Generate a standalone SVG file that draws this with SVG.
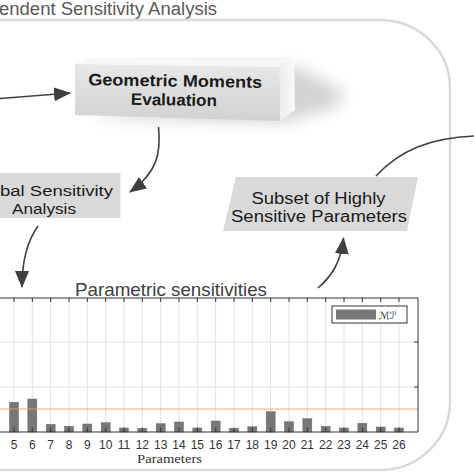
<svg xmlns="http://www.w3.org/2000/svg" width="474" height="474" viewBox="0 0 474 474">
<style>
.lbl{font-family:"Liberation Sans",Arial,sans-serif;fill:#1a1a1a}
.tick{font-family:"Liberation Sans",Arial,sans-serif;font-size:12px;fill:#333;text-anchor:middle}
.grid{stroke:#e2e2e2;stroke-width:1;fill:none}
.bar{fill:#777;stroke:#6a6a6a;stroke-width:0.5}
.conn{fill:none;stroke:#404040;stroke-width:1.6}
.tk{stroke:#333;stroke-width:1;fill:none}
</style>
<defs>
<marker id="ah" markerUnits="userSpaceOnUse" markerWidth="18" markerHeight="15" refX="16" refY="7" orient="auto">
<path d="M0,0 L17,7 L0,14 z" fill="#404040"/>
</marker>
<linearGradient id="front" x1="0" y1="0" x2="0" y2="1">
<stop offset="0" stop-color="#e8e8e8"/>
<stop offset="1" stop-color="#d2d2d2"/>
</linearGradient>
<linearGradient id="side" x1="0" y1="0" x2="1" y2="0">
<stop offset="0" stop-color="#ececec"/>
<stop offset="1" stop-color="#fafafa"/>
</linearGradient>
<filter id="blur" x="-50%" y="-50%" width="200%" height="200%">
<feGaussianBlur stdDeviation="8"/>
</filter>
</defs>
<rect width="474" height="474" fill="#fff"/>

<g id="title">
<text x="-1" y="15" font-family="Liberation Sans,Arial,sans-serif" font-size="18" fill="#595959" textLength="218" lengthAdjust="spacingAndGlyphs">endent Sensitivity Analysis</text>
</g>

<g id="container">
<path d="M0,20 H380 A70,68 0 0 1 450,88 V402 A70,68 0 0 1 380,470 H0" fill="none" stroke="#d9d9d9" stroke-width="2.5"/>
</g>

<g id="node-geometric">
<polygon points="88,116 282,123 335,108 345,92 296,66" fill="#000" opacity="0.17" filter="url(#blur)"/>
<polygon points="75,64 90,58 294,57 279,67" fill="#f6f6f6"/>
<polygon points="279,67 294,57 295,110 280,121" fill="url(#side)"/>
<polygon points="75,64 279,67 280,121 75,115" fill="url(#front)"/>
<g transform="rotate(0.9 175 95)">
<text class="lbl" x="175" y="86.5" font-size="16.5" font-weight="bold" text-anchor="middle" textLength="174" lengthAdjust="spacingAndGlyphs">Geometric Moments</text>
<text class="lbl" x="174" y="105.5" font-size="16.5" font-weight="bold" text-anchor="middle" textLength="86" lengthAdjust="spacingAndGlyphs">Evaluation</text>
</g>
</g>

<g id="node-gsa">
<rect x="-2" y="173" width="122.5" height="45" fill="#d9d9d9"/>
<text class="lbl" x="0" y="196" font-size="15.5" textLength="113" lengthAdjust="spacingAndGlyphs">bal Sensitivity</text>
<text class="lbl" x="44" y="213.5" font-size="15.5" text-anchor="middle" textLength="64" lengthAdjust="spacingAndGlyphs">Analysis</text>
</g>

<g id="node-subset">
<polygon points="236,177 418,177 407,231 223,231" fill="#d9d9d9"/>
<text class="lbl" x="318.5" y="204" font-size="16" text-anchor="middle" textLength="134" lengthAdjust="spacingAndGlyphs">Subset of Highly</text>
<text class="lbl" x="319" y="222" font-size="16" text-anchor="middle" textLength="176" lengthAdjust="spacingAndGlyphs">Sensitive Parameters</text>
</g>

<g id="node-chart">
<g class="grid">
<path d="M14,298V432M32.33,298V432M50.67,298V432M69,298V432M87.33,298V432M105.67,298V432M124,298V432M142.33,298V432M160.67,298V432M179,298V432M197.33,298V432M215.67,298V432M234,298V432M252.33,298V432M270.67,298V432M289,298V432M307.33,298V432M325.67,298V432M344,298V432M362.33,298V432M380.67,298V432M399,298V432"/>
<path d="M0,342H418M0,387H418"/>
</g>
<g>
<rect class="bar" x="9.5" y="402.3" width="9" height="29.7"/>
<rect class="bar" x="27.83" y="399" width="9" height="33"/>
<rect class="bar" x="46.17" y="424.3" width="9" height="7.7"/>
<rect class="bar" x="64.5" y="426.3" width="9" height="5.7"/>
<rect class="bar" x="82.83" y="424" width="9" height="8"/>
<rect class="bar" x="101.17" y="422.7" width="9" height="9.3"/>
<rect class="bar" x="119.5" y="428" width="9" height="4"/>
<rect class="bar" x="137.83" y="428.3" width="9" height="3.7"/>
<rect class="bar" x="156.17" y="423.7" width="9" height="8.3"/>
<rect class="bar" x="174.5" y="422" width="9" height="10"/>
<rect class="bar" x="192.83" y="428" width="9" height="4"/>
<rect class="bar" x="211.17" y="421" width="9" height="11"/>
<rect class="bar" x="229.5" y="428.3" width="9" height="3.7"/>
<rect class="bar" x="247.83" y="426.7" width="9" height="5.3"/>
<rect class="bar" x="266.17" y="411.7" width="9" height="20.3"/>
<rect class="bar" x="284.5" y="421.7" width="9" height="10.3"/>
<rect class="bar" x="302.83" y="418.7" width="9" height="13.3"/>
<rect class="bar" x="321.17" y="426.3" width="9" height="5.7"/>
<rect class="bar" x="339.5" y="428" width="9" height="4"/>
<rect class="bar" x="357.83" y="423.3" width="9" height="8.7"/>
<rect class="bar" x="376.17" y="427" width="9" height="5"/>
<rect class="bar" x="394.5" y="428" width="9" height="4"/>
</g>
<path d="M0,409H418" stroke="#ec9a6e" stroke-width="1" opacity="0.85"/>
<g class="tk">
<path d="M14,298v4M32.33,298v4M50.67,298v4M69,298v4M87.33,298v4M105.67,298v4M124,298v4M142.33,298v4M160.67,298v4M179,298v4M197.33,298v4M215.67,298v4M234,298v4M252.33,298v4M270.67,298v4M289,298v4M307.33,298v4M325.67,298v4M344,298v4M362.33,298v4M380.67,298v4M399,298v4"/>
<path d="M14,432v-4.5M32.33,432v-4.5M50.67,432v-4.5M69,432v-4.5M87.33,432v-4.5M105.67,432v-4.5M124,432v-4.5M142.33,432v-4.5M160.67,432v-4.5M179,432v-4.5M197.33,432v-4.5M215.67,432v-4.5M234,432v-4.5M252.33,432v-4.5M270.67,432v-4.5M289,432v-4.5M307.33,432v-4.5M325.67,432v-4.5M344,432v-4.5M362.33,432v-4.5M380.67,432v-4.5M399,432v-4.5"/>
<path d="M418,342h-4M418,387h-4"/>
<path d="M0,298H418V432H0"/>
</g>
<g>
<rect x="332" y="306" width="75" height="17" fill="#fff" stroke="#333" stroke-width="1"/>
<rect x="336" y="309.5" width="40" height="10" fill="#777"/>
<text x="379" y="319" font-family="DejaVu Serif,DejaVu Sans,serif" font-style="italic" font-size="10" fill="#222">ℳℐ<tspan font-size="6.5" dy="-4.5">i</tspan></text>
</g>
<g>
<text class="tick" x="14" y="448.5">5</text>
<text class="tick" x="32.33" y="448.5">6</text>
<text class="tick" x="50.67" y="448.5">7</text>
<text class="tick" x="69" y="448.5">8</text>
<text class="tick" x="87.33" y="448.5">9</text>
<text class="tick" x="105.67" y="448.5">10</text>
<text class="tick" x="124" y="448.5">11</text>
<text class="tick" x="142.33" y="448.5">12</text>
<text class="tick" x="160.67" y="448.5">13</text>
<text class="tick" x="179" y="448.5">14</text>
<text class="tick" x="197.33" y="448.5">15</text>
<text class="tick" x="215.67" y="448.5">16</text>
<text class="tick" x="234" y="448.5">17</text>
<text class="tick" x="252.33" y="448.5">18</text>
<text class="tick" x="270.67" y="448.5">19</text>
<text class="tick" x="289" y="448.5">20</text>
<text class="tick" x="307.33" y="448.5">21</text>
<text class="tick" x="325.67" y="448.5">22</text>
<text class="tick" x="344" y="448.5">23</text>
<text class="tick" x="362.33" y="448.5">24</text>
<text class="tick" x="380.67" y="448.5">25</text>
<text class="tick" x="399" y="448.5">26</text>
</g>
<text x="169.5" y="463" font-family="Liberation Serif,Times New Roman,serif" font-size="13" fill="#333" text-anchor="middle" textLength="65" lengthAdjust="spacingAndGlyphs">Parameters</text>
<text x="171" y="296" font-family="Liberation Sans,Arial,sans-serif" font-size="18.5" fill="#404040" text-anchor="middle" textLength="192" lengthAdjust="spacingAndGlyphs">Parametric sensitivities</text>
</g>

<g id="connectors">
<path class="conn" d="M0,98.5 L70,93" marker-end="url(#ah)"/>
<path class="conn" d="M158.5,127 C161,152 158,172 130,192" marker-end="url(#ah)"/>
<path class="conn" d="M38,226 C28,240 22,258 22,287" marker-end="url(#ah)"/>
<path class="conn" d="M318,288 C332,276 341,262 343.5,238" marker-end="url(#ah)"/>
<path class="conn" d="M376,176 C400,150 430,138 474,136"/>
</g>
</svg>
